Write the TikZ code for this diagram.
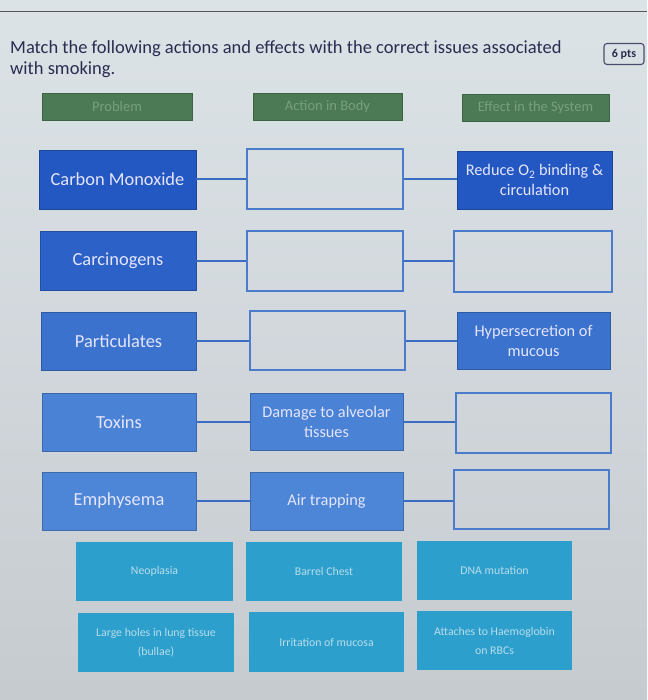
\documentclass[tikz,border=0pt]{standalone}
\usepackage{fontspec}
\setmainfont{Carlito}
\begin{document}
\begin{tikzpicture}[x=1pt,y=-1pt,
  base/.style={rectangle, inner sep=2pt, align=center, font=\fontsize{16.3}{20}\selectfont},
  prob/.style={base, draw=#1!80!black, line width=0.6pt, fill=#1, text=white!90!blue},
  big/.style={font=\fontsize{18.4}{20}\selectfont},
  emptybox/.style={rectangle, draw=boxline, line width=1.3pt},
  hdr/.style={rectangle, fill=hdrgreen, draw=hdrgreen!80!black, line width=0.5pt, text=hdrtext, font=\fontsize{14.5}{16}\selectfont, minimum height=27pt},
  tile/.style={rectangle, fill=tilecyan, text=tiletext, align=center, font=\fontsize{11.8}{19}\selectfont, minimum width=156pt, minimum height=59pt},
  conn/.style={draw=connblue, line width=2pt}
]
\definecolor{bgtop}{HTML}{DCE3E7}
\definecolor{bgbot}{HTML}{C6CBD0}
\definecolor{titlecol}{HTML}{2A2C50}
\definecolor{hdrgreen}{HTML}{4C7A55}
\definecolor{hdrtext}{HTML}{77A07E}
\definecolor{rowA}{HTML}{2357C2}
\definecolor{rowB}{HTML}{2C62C8}
\definecolor{rowC}{HTML}{3A72CD}
\definecolor{rowD}{HTML}{4A82D5}
\definecolor{rowE}{HTML}{4D86D7}
\definecolor{boxline}{HTML}{4A7CCB}
\definecolor{connblue}{HTML}{3B6CC4}
\definecolor{tilecyan}{HTML}{2C9FCD}
\definecolor{tiletext}{HTML}{B9DDEA}
\useasboundingbox (0,0) rectangle (647,700);
\shade[top color=bgtop, bottom color=bgbot] (0,0) rectangle (647,700);
\draw[line width=1pt, draw=black!65] (0,12) -- (647,12);
% title
\node[anchor=north west, align=left, text=titlecol, inner sep=0pt, font=\fontsize{18.5}{21}\selectfont] (title) at (10,40)
  {Match the following actions and effects with the correct issues associated\\with smoking.};
\node[draw=titlecol!85!white, rounded corners=3pt, line width=1.1pt, text=titlecol, font=\fontsize{12}{13}\selectfont\bfseries, minimum width=40pt, minimum height=21pt, inner sep=1pt] (pts) at (624,54) {6 pts};
% headers
\node[hdr, minimum width=150pt] (hP) at (117,106.5) {Problem};
\node[hdr, minimum width=149pt] (hA) at (327.5,107) {Action in Body};
\node[hdr, minimum width=147pt] (hE) at (535.5,107.5) {Effect in the System};
% row 1
\node[prob=rowA, big, minimum width=157pt, minimum height=59pt] (p1) at (117.5,179.5) {Carbon Monoxide};
\node[emptybox, minimum width=156pt, minimum height=60pt] (a1) at (325,179) {};
\node[prob=rowA, minimum width=155pt, minimum height=58pt] (e1) at (534.5,180) {Reduce O\textsubscript{2} binding \&\\circulation};
% row 2
\node[prob=rowB, big, minimum width=156pt, minimum height=59pt] (p2) at (118,260.5) {Carcinogens};
\node[emptybox, minimum width=156pt, minimum height=60pt] (a2) at (325,261) {};
\node[emptybox, minimum width=158pt, minimum height=61pt] (e2) at (533,261.5) {};
% row 3
\node[prob=rowC, big, minimum width=155pt, minimum height=58pt] (p3) at (118.5,341) {Particulates};
\node[emptybox, minimum width=155pt, minimum height=59pt] (a3) at (327.5,340.5) {};
\node[prob=rowC, minimum width=153pt, minimum height=57pt] (e3) at (533.5,340.5) {Hypersecretion of\\mucous};
% row 4
\node[prob=rowD, big, minimum width=154pt, minimum height=58pt] (p4) at (119,422) {Toxins};
\node[prob=rowD, minimum width=153pt, minimum height=57pt] (a4) at (326.5,421.5) {Damage to alveolar\\tissues};
\node[emptybox, minimum width=155pt, minimum height=60pt] (e4) at (533.5,423) {};
% row 5
\node[prob=rowE, big, minimum width=154pt, minimum height=58pt] (p5) at (119,501) {Emphysema};
\node[prob=rowE, minimum width=153pt, minimum height=58pt] (a5) at (326.5,501) {Air trapping};
\node[emptybox, minimum width=155pt, minimum height=59pt] (e5) at (531.5,499.5) {};
% connectors
\foreach \i in {1,...,5}{
  \draw[conn] (p\i.east) -- (p\i.east -| a\i.west);
  \draw[conn] (a\i.east) -- (a\i.east -| e\i.west);
}
% answer tiles
\node[tile, minimum width=157pt] (t1) at (154.5,571.5) {Neoplasia};
\node[tile] (t2) at (324,571.5) {Barrel Chest};
\node[tile, minimum width=155pt] (t3) at (494.5,570.5) {DNA mutation};
\node[tile] (t4) at (156,642.5) {Large holes in lung tissue\\(bullae)};
\node[tile, minimum width=155pt, minimum height=60pt] (t5) at (326.5,642) {Irritation of mucosa};
\node[tile, minimum width=155pt] (t6) at (494.5,640.5) {Attaches to Haemoglobin\\on RBCs};
\end{tikzpicture}
\end{document}
